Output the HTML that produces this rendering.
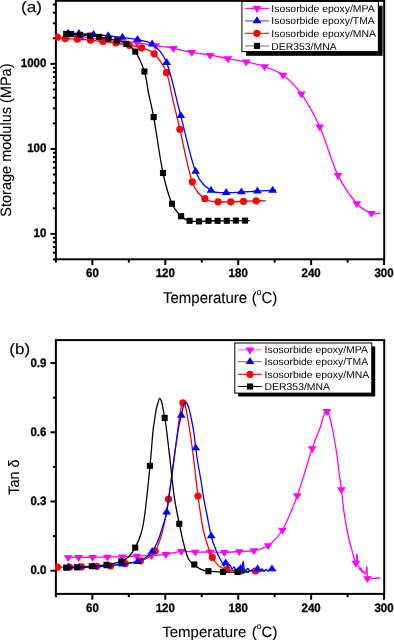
<!DOCTYPE html>
<html><head><meta charset="utf-8"><title>DMA plots</title>
<style>
html,body{margin:0;padding:0;background:#fff;}
body{width:394px;height:640px;overflow:hidden;}
svg{display:block;}
text{font-family:"Liberation Sans",Arial,sans-serif;fill:#000;text-rendering:geometricPrecision;}
.b{font-weight:bold;stroke:#000;stroke-width:0.3px;}
.t{stroke:#000;stroke-width:0.1px;}
</style></head><body>
<svg width="394" height="640" viewBox="0 0 394 640">
<rect width="394" height="640" fill="#fff"/>
<defs><clipPath id="ca"><rect x="55" y="1.5" width="328.2" height="256.6"/></clipPath><clipPath id="cb"><rect x="55" y="341.2" width="328.2" height="251.6"/></clipPath></defs>
<rect x="55.90" y="0.80" width="328.30" height="258.50" fill="none" stroke="#000" stroke-width="2.0"/>
<rect x="55.90" y="340.10" width="328.30" height="253.80" fill="none" stroke="#000" stroke-width="2.0"/>
<g stroke="#000" stroke-width="2"><line x1="55.92" y1="259.30" x2="55.92" y2="262.60"/><line x1="92.38" y1="259.30" x2="92.38" y2="265.10"/><line x1="128.84" y1="259.30" x2="128.84" y2="262.60"/><line x1="165.30" y1="259.30" x2="165.30" y2="265.10"/><line x1="201.76" y1="259.30" x2="201.76" y2="262.60"/><line x1="238.21" y1="259.30" x2="238.21" y2="265.10"/><line x1="274.67" y1="259.30" x2="274.67" y2="262.60"/><line x1="311.13" y1="259.30" x2="311.13" y2="265.10"/><line x1="347.59" y1="259.30" x2="347.59" y2="262.60"/><line x1="384.05" y1="259.30" x2="384.05" y2="265.10"/><line x1="55.92" y1="593.90" x2="55.92" y2="597.20"/><line x1="92.38" y1="593.90" x2="92.38" y2="599.70"/><line x1="128.84" y1="593.90" x2="128.84" y2="597.20"/><line x1="165.30" y1="593.90" x2="165.30" y2="599.70"/><line x1="201.76" y1="593.90" x2="201.76" y2="597.20"/><line x1="238.21" y1="593.90" x2="238.21" y2="599.70"/><line x1="274.67" y1="593.90" x2="274.67" y2="597.20"/><line x1="311.13" y1="593.90" x2="311.13" y2="599.70"/><line x1="347.59" y1="593.90" x2="347.59" y2="597.20"/><line x1="384.05" y1="593.90" x2="384.05" y2="599.70"/><line x1="55.90" y1="259.49" x2="52.90" y2="259.49"/><line x1="55.90" y1="252.76" x2="52.90" y2="252.76"/><line x1="55.90" y1="247.07" x2="52.90" y2="247.07"/><line x1="55.90" y1="242.14" x2="52.90" y2="242.14"/><line x1="55.90" y1="237.79" x2="52.90" y2="237.79"/><line x1="55.90" y1="233.90" x2="50.50" y2="233.90"/><line x1="55.90" y1="208.31" x2="52.90" y2="208.31"/><line x1="55.90" y1="193.34" x2="52.90" y2="193.34"/><line x1="55.90" y1="182.72" x2="52.90" y2="182.72"/><line x1="55.90" y1="174.49" x2="52.90" y2="174.49"/><line x1="55.90" y1="167.76" x2="52.90" y2="167.76"/><line x1="55.90" y1="162.07" x2="52.90" y2="162.07"/><line x1="55.90" y1="157.14" x2="52.90" y2="157.14"/><line x1="55.90" y1="152.79" x2="52.90" y2="152.79"/><line x1="55.90" y1="148.90" x2="50.50" y2="148.90"/><line x1="55.90" y1="123.31" x2="52.90" y2="123.31"/><line x1="55.90" y1="108.34" x2="52.90" y2="108.34"/><line x1="55.90" y1="97.72" x2="52.90" y2="97.72"/><line x1="55.90" y1="89.49" x2="52.90" y2="89.49"/><line x1="55.90" y1="82.76" x2="52.90" y2="82.76"/><line x1="55.90" y1="77.07" x2="52.90" y2="77.07"/><line x1="55.90" y1="72.14" x2="52.90" y2="72.14"/><line x1="55.90" y1="67.79" x2="52.90" y2="67.79"/><line x1="55.90" y1="63.90" x2="50.50" y2="63.90"/><line x1="55.90" y1="38.31" x2="52.90" y2="38.31"/><line x1="55.90" y1="23.34" x2="52.90" y2="23.34"/><line x1="55.90" y1="12.72" x2="52.90" y2="12.72"/><line x1="55.90" y1="4.49" x2="52.90" y2="4.49"/><line x1="55.90" y1="570.70" x2="50.50" y2="570.70"/><line x1="55.90" y1="536.10" x2="52.90" y2="536.10"/><line x1="55.90" y1="501.49" x2="50.50" y2="501.49"/><line x1="55.90" y1="466.89" x2="52.90" y2="466.89"/><line x1="55.90" y1="432.28" x2="50.50" y2="432.28"/><line x1="55.90" y1="397.68" x2="52.90" y2="397.68"/><line x1="55.90" y1="363.07" x2="50.50" y2="363.07"/></g>
<g clip-path="url(#ca)">
<path d="M67.70,35.90 C70.08,36.02 76.57,36.05 82.00,36.60 C87.43,37.15 94.20,38.58 100.30,39.20 C106.40,39.82 112.48,39.70 118.60,40.30 C124.72,40.90 130.85,41.92 137.00,42.80 C143.15,43.68 149.43,44.67 155.50,45.60 C161.57,46.53 167.35,47.27 173.40,48.40 C179.45,49.53 185.67,51.27 191.80,52.40 C197.93,53.53 204.17,54.17 210.20,55.20 C216.23,56.23 222.00,57.48 228.00,58.60 C234.00,59.72 240.10,60.57 246.20,61.90 C252.30,63.23 258.48,64.42 264.60,66.60 C270.72,68.78 276.78,70.45 282.90,75.00 C289.02,79.55 295.17,85.27 301.30,93.90 C307.43,102.53 313.58,113.22 319.70,126.80 C325.82,140.38 331.82,162.62 338.00,175.40 C344.18,188.18 351.23,197.20 356.80,203.50 C362.37,209.80 367.48,211.63 371.40,213.20 C375.32,214.77 378.82,212.95 380.30,212.90" fill="none" stroke="#ff00ff" stroke-width="1.30" stroke-linejoin="round"/>
<g fill="#ff00ff"><path d="M63.30,33.60 L72.10,33.60 L67.70,40.50 Z"/><path d="M77.60,34.30 L86.40,34.30 L82.00,41.20 Z"/><path d="M95.90,36.90 L104.70,36.90 L100.30,43.80 Z"/><path d="M114.20,38.00 L123.00,38.00 L118.60,44.90 Z"/><path d="M132.60,40.50 L141.40,40.50 L137.00,47.40 Z"/><path d="M151.10,43.30 L159.90,43.30 L155.50,50.20 Z"/><path d="M169.00,46.10 L177.80,46.10 L173.40,53.00 Z"/><path d="M187.40,50.10 L196.20,50.10 L191.80,57.00 Z"/><path d="M205.80,52.90 L214.60,52.90 L210.20,59.80 Z"/><path d="M223.60,56.30 L232.40,56.30 L228.00,63.20 Z"/><path d="M241.80,59.60 L250.60,59.60 L246.20,66.50 Z"/><path d="M260.20,64.30 L269.00,64.30 L264.60,71.20 Z"/><path d="M278.50,72.70 L287.30,72.70 L282.90,79.60 Z"/><path d="M296.90,91.60 L305.70,91.60 L301.30,98.50 Z"/><path d="M315.30,124.50 L324.10,124.50 L319.70,131.40 Z"/><path d="M333.60,173.10 L342.40,173.10 L338.00,180.00 Z"/><path d="M352.40,201.20 L361.20,201.20 L356.80,208.10 Z"/><path d="M367.00,210.90 L375.80,210.90 L371.40,217.80 Z"/></g>
<path d="M57.40,37.20 C58.70,37.43 61.88,38.27 65.20,38.60 C68.52,38.93 73.08,38.93 77.30,39.20 C81.52,39.47 86.23,39.82 90.50,40.20 C94.77,40.58 98.67,41.03 102.90,41.50 C107.13,41.97 111.50,42.37 115.90,43.00 C120.30,43.63 125.02,44.50 129.30,45.30 C133.58,46.10 137.45,46.38 141.60,47.80 C145.75,49.22 150.05,49.65 154.20,53.80 C158.35,57.95 163.38,65.00 166.50,72.70 C169.62,80.40 170.67,90.57 172.90,100.00 C175.13,109.43 176.67,115.67 179.90,129.30 C183.13,142.93 188.13,170.23 192.30,181.80 C196.47,193.37 200.60,195.37 204.90,198.70 C209.20,202.03 213.78,201.28 218.10,201.80 C222.42,202.32 226.57,201.88 230.80,201.80 C235.03,201.72 239.28,201.47 243.50,201.30 C247.72,201.13 252.38,200.88 256.10,200.80 C259.82,200.72 264.18,200.80 265.80,200.80" fill="none" stroke="#ff0000" stroke-width="1.30" stroke-linejoin="round"/>
<g fill="#ff0000"><circle cx="57.40" cy="37.20" r="3.60"/><circle cx="65.20" cy="38.60" r="3.60"/><circle cx="77.30" cy="39.20" r="3.60"/><circle cx="90.50" cy="40.20" r="3.60"/><circle cx="102.90" cy="41.50" r="3.60"/><circle cx="115.90" cy="43.00" r="3.60"/><circle cx="129.30" cy="45.30" r="3.60"/><circle cx="141.60" cy="47.80" r="3.60"/><circle cx="154.20" cy="53.80" r="3.60"/><circle cx="166.50" cy="72.70" r="3.60"/><circle cx="179.90" cy="129.30" r="3.60"/><circle cx="192.30" cy="181.80" r="3.60"/><circle cx="204.90" cy="198.70" r="3.60"/><circle cx="218.10" cy="201.80" r="3.60"/><circle cx="230.80" cy="201.80" r="3.60"/><circle cx="243.50" cy="201.30" r="3.60"/><circle cx="256.10" cy="200.80" r="3.60"/></g>
<path d="M68.20,33.40 C69.98,33.42 74.68,33.32 78.90,33.50 C83.12,33.68 88.60,34.10 93.50,34.50 C98.40,34.90 103.48,35.42 108.30,35.90 C113.12,36.38 117.53,36.78 122.40,37.40 C127.27,38.02 132.55,38.47 137.50,39.60 C142.45,40.73 147.25,40.37 152.10,44.20 C156.95,48.03 161.82,50.67 166.60,62.60 C171.38,74.53 175.97,97.67 180.80,115.80 C185.63,133.93 190.57,158.97 195.60,171.40 C200.63,183.83 205.90,186.87 211.00,190.40 C216.10,193.93 221.13,192.33 226.20,192.60 C231.27,192.87 236.20,192.23 241.40,192.00 C246.60,191.77 252.20,191.47 257.40,191.20 C262.60,190.93 269.50,190.57 272.60,190.40 C275.70,190.23 275.43,190.23 276.00,190.20" fill="none" stroke="#0000ff" stroke-width="1.30" stroke-linejoin="round"/>
<g fill="#0000ff"><path d="M63.80,35.70 L72.60,35.70 L68.20,28.80 Z"/><path d="M74.50,35.80 L83.30,35.80 L78.90,28.90 Z"/><path d="M89.10,36.80 L97.90,36.80 L93.50,29.90 Z"/><path d="M103.90,38.20 L112.70,38.20 L108.30,31.30 Z"/><path d="M118.00,39.70 L126.80,39.70 L122.40,32.80 Z"/><path d="M133.10,41.90 L141.90,41.90 L137.50,35.00 Z"/><path d="M147.70,46.50 L156.50,46.50 L152.10,39.60 Z"/><path d="M162.20,64.90 L171.00,64.90 L166.60,58.00 Z"/><path d="M176.40,118.10 L185.20,118.10 L180.80,111.20 Z"/><path d="M191.20,173.70 L200.00,173.70 L195.60,166.80 Z"/><path d="M206.60,192.70 L215.40,192.70 L211.00,185.80 Z"/><path d="M221.80,194.90 L230.60,194.90 L226.20,188.00 Z"/><path d="M237.00,194.30 L245.80,194.30 L241.40,187.40 Z"/><path d="M253.00,193.50 L261.80,193.50 L257.40,186.60 Z"/><path d="M268.20,192.70 L277.00,192.70 L272.60,185.80 Z"/></g>
<path d="M66.20,33.90 C67.03,33.92 68.88,33.83 71.20,34.00 C73.52,34.17 76.98,34.62 80.10,34.90 C83.22,35.18 86.73,35.37 89.90,35.70 C93.07,36.03 96.03,36.38 99.10,36.90 C102.17,37.42 105.30,38.22 108.30,38.80 C111.30,39.38 114.12,39.57 117.10,40.40 C120.08,41.23 123.17,41.93 126.20,43.80 C129.23,45.67 132.27,46.98 135.30,51.60 C138.33,56.22 142.18,64.52 144.40,71.50 C146.62,78.48 147.05,85.90 148.60,93.50 C150.15,101.10 151.30,103.85 153.70,117.10 C156.10,130.35 159.95,158.56 163.00,173.00 C166.05,187.44 168.98,196.55 172.00,203.75 C175.02,210.95 178.17,213.36 181.10,216.20 C184.03,219.04 186.62,219.93 189.60,220.80 C192.58,221.67 195.85,221.40 199.00,221.40 C202.15,221.40 205.40,220.90 208.50,220.80 C211.60,220.70 214.55,220.80 217.60,220.80 C220.65,220.80 223.75,220.83 226.80,220.80 C229.85,220.77 232.87,220.63 235.90,220.60 C238.93,220.57 242.70,220.60 245.00,220.60 C247.30,220.60 248.92,220.60 249.70,220.60" fill="none" stroke="#000000" stroke-width="1.30" stroke-linejoin="round"/>
<g fill="#000000"><rect x="63.15" y="30.85" width="6.10" height="6.10"/><rect x="68.15" y="30.95" width="6.10" height="6.10"/><rect x="77.05" y="31.85" width="6.10" height="6.10"/><rect x="86.85" y="32.65" width="6.10" height="6.10"/><rect x="96.05" y="33.85" width="6.10" height="6.10"/><rect x="105.25" y="35.75" width="6.10" height="6.10"/><rect x="114.05" y="37.35" width="6.10" height="6.10"/><rect x="123.15" y="40.75" width="6.10" height="6.10"/><rect x="132.25" y="48.55" width="6.10" height="6.10"/><rect x="141.35" y="68.45" width="6.10" height="6.10"/><rect x="150.65" y="114.05" width="6.10" height="6.10"/><rect x="159.95" y="169.95" width="6.10" height="6.10"/><rect x="168.95" y="200.70" width="6.10" height="6.10"/><rect x="178.05" y="213.15" width="6.10" height="6.10"/><rect x="186.55" y="217.75" width="6.10" height="6.10"/><rect x="195.95" y="218.35" width="6.10" height="6.10"/><rect x="205.45" y="217.75" width="6.10" height="6.10"/><rect x="214.55" y="217.75" width="6.10" height="6.10"/><rect x="223.75" y="217.75" width="6.10" height="6.10"/><rect x="232.85" y="217.55" width="6.10" height="6.10"/><rect x="241.95" y="217.55" width="6.10" height="6.10"/></g>
</g>
<g clip-path="url(#cb)">
<path d="M68.10,557.50 C69.85,557.48 74.52,557.45 78.60,557.40 C82.68,557.35 87.80,557.27 92.60,557.20 C97.40,557.13 102.45,557.08 107.40,557.00 C112.35,556.92 117.42,556.87 122.30,556.70 C127.18,556.53 131.83,556.20 136.70,556.00 C141.57,555.80 146.65,555.78 151.50,555.50 C156.35,555.22 160.83,555.00 165.80,554.30 C170.77,553.60 176.38,551.68 181.30,551.30 C186.22,550.92 190.48,551.88 195.30,552.00 C200.12,552.12 205.35,551.95 210.20,552.00 C215.05,552.05 219.55,552.38 224.40,552.30 C229.25,552.22 234.38,551.80 239.30,551.50 C244.22,551.20 249.08,551.50 253.90,550.50 C258.72,549.50 263.45,548.92 268.20,545.50 C272.95,542.08 277.55,538.33 282.40,530.00 C287.25,521.67 292.33,509.08 297.30,495.50 C302.27,481.92 308.42,459.75 312.20,448.50 C315.98,437.25 317.95,433.83 320.00,428.00 C322.05,422.17 323.33,416.33 324.50,413.50 C325.67,410.67 326.08,410.25 327.00,411.00 C327.92,411.75 329.00,414.50 330.00,418.00 C331.00,421.50 331.92,426.33 333.00,432.00 C334.08,437.67 335.50,445.33 336.50,452.00 C337.50,458.67 338.18,465.73 339.00,472.00 C339.82,478.27 340.57,482.93 341.40,489.60 C342.23,496.27 343.07,505.27 344.00,512.00 C344.93,518.73 345.83,524.17 347.00,530.00 C348.17,535.83 349.53,541.50 351.00,547.00 C352.47,552.50 354.87,561.50 355.80,563.00 C356.73,564.50 356.37,557.33 356.60,556.00 C356.83,554.67 357.03,553.50 357.20,555.00 C357.37,556.50 357.30,563.00 357.60,565.00 C357.90,567.00 358.60,566.17 359.00,567.00 C359.40,567.83 359.67,569.83 360.00,570.00 C360.33,570.17 360.67,567.67 361.00,568.00 C361.33,568.33 361.58,571.50 362.00,572.00 C362.42,572.50 363.08,570.67 363.50,571.00 C363.92,571.33 364.08,573.83 364.50,574.00 C364.92,574.17 365.62,573.17 366.00,572.00 C366.38,570.83 366.57,566.33 366.80,567.00 C367.03,567.67 367.12,574.08 367.40,576.00 C367.68,577.92 368.07,578.33 368.50,578.50 C368.93,578.67 369.42,577.00 370.00,577.00 C370.58,577.00 371.00,578.33 372.00,578.50 C373.00,578.67 374.67,578.08 376.00,578.00 C377.33,577.92 379.33,578.00 380.00,578.00" fill="none" stroke="#ff00ff" stroke-width="1.30" stroke-linejoin="round"/>
<g fill="#ff00ff"><path d="M63.70,555.20 L72.50,555.20 L68.10,562.10 Z"/><path d="M74.20,555.10 L83.00,555.10 L78.60,562.00 Z"/><path d="M88.20,554.90 L97.00,554.90 L92.60,561.80 Z"/><path d="M103.00,554.70 L111.80,554.70 L107.40,561.60 Z"/><path d="M117.90,554.40 L126.70,554.40 L122.30,561.30 Z"/><path d="M132.30,553.70 L141.10,553.70 L136.70,560.60 Z"/><path d="M147.10,553.20 L155.90,553.20 L151.50,560.10 Z"/><path d="M161.40,552.00 L170.20,552.00 L165.80,558.90 Z"/><path d="M176.90,549.00 L185.70,549.00 L181.30,555.90 Z"/><path d="M190.90,549.70 L199.70,549.70 L195.30,556.60 Z"/><path d="M205.80,549.70 L214.60,549.70 L210.20,556.60 Z"/><path d="M220.00,550.00 L228.80,550.00 L224.40,556.90 Z"/><path d="M234.90,549.20 L243.70,549.20 L239.30,556.10 Z"/><path d="M249.50,548.20 L258.30,548.20 L253.90,555.10 Z"/><path d="M263.80,543.20 L272.60,543.20 L268.20,550.10 Z"/><path d="M278.00,527.70 L286.80,527.70 L282.40,534.60 Z"/><path d="M292.90,493.20 L301.70,493.20 L297.30,500.10 Z"/><path d="M307.80,446.20 L316.60,446.20 L312.20,453.10 Z"/><path d="M322.50,409.10 L331.30,409.10 L326.90,416.00 Z"/><path d="M337.00,487.30 L345.80,487.30 L341.40,494.20 Z"/><path d="M351.40,560.70 L360.20,560.70 L355.80,567.60 Z"/><path d="M363.10,576.20 L371.90,576.20 L367.50,583.10 Z"/></g>
<path d="M57.40,567.20 C59.42,567.18 65.47,567.17 69.50,567.10 C73.53,567.03 77.05,566.93 81.60,566.80 C86.15,566.67 91.98,566.43 96.80,566.30 C101.62,566.17 105.75,566.45 110.50,566.00 C115.25,565.55 120.30,564.47 125.30,563.60 C130.30,562.73 136.63,561.82 140.50,560.80 C144.37,559.78 146.07,559.13 148.50,557.50 C150.93,555.87 153.43,553.25 155.10,551.00 C156.77,548.75 157.35,547.00 158.50,544.00 C159.65,541.00 160.83,537.33 162.00,533.00 C163.17,528.67 164.42,523.63 165.50,518.00 C166.58,512.37 167.42,506.37 168.50,499.20 C169.58,492.03 170.75,484.20 172.00,475.00 C173.25,465.80 174.70,454.00 176.00,444.00 C177.30,434.00 178.65,422.03 179.80,415.00 C180.95,407.97 181.90,402.97 182.90,401.80 C183.90,400.63 184.78,403.97 185.80,408.00 C186.82,412.03 187.90,419.17 189.00,426.00 C190.10,432.83 191.32,440.83 192.40,449.00 C193.48,457.17 194.57,467.17 195.50,475.00 C196.43,482.83 197.00,488.50 198.00,496.00 C199.00,503.50 200.33,513.17 201.50,520.00 C202.67,526.83 203.20,530.78 205.00,537.00 C206.80,543.22 209.97,552.47 212.30,557.30 C214.63,562.13 216.58,563.97 219.00,566.00 C221.42,568.03 223.10,568.67 226.80,569.50 C230.50,570.33 236.42,570.75 241.20,571.00 C245.98,571.25 251.53,571.00 255.50,571.00 C259.47,571.00 263.42,571.00 265.00,571.00" fill="none" stroke="#ff0000" stroke-width="1.30" stroke-linejoin="round"/>
<g fill="#ff0000"><circle cx="57.40" cy="567.20" r="3.60"/><circle cx="69.50" cy="567.10" r="3.60"/><circle cx="81.60" cy="566.80" r="3.60"/><circle cx="96.80" cy="566.30" r="3.60"/><circle cx="110.50" cy="566.00" r="3.60"/><circle cx="125.30" cy="563.60" r="3.60"/><circle cx="140.50" cy="560.80" r="3.60"/><circle cx="155.10" cy="551.00" r="3.60"/><circle cx="168.50" cy="499.20" r="3.60"/><circle cx="182.90" cy="402.80" r="3.60"/><circle cx="198.00" cy="496.00" r="3.60"/><circle cx="212.30" cy="557.30" r="3.60"/><circle cx="226.80" cy="569.50" r="3.60"/><circle cx="241.20" cy="571.00" r="3.60"/><circle cx="255.50" cy="571.00" r="3.60"/></g>
<path d="M68.30,567.20 C70.10,567.22 74.92,567.37 79.10,567.30 C83.28,567.23 88.58,567.02 93.40,566.80 C98.22,566.58 103.15,566.43 108.00,566.00 C112.85,565.57 117.57,564.93 122.50,564.20 C127.43,563.47 133.68,562.72 137.60,561.60 C141.52,560.48 143.57,559.18 146.00,557.50 C148.43,555.82 150.53,553.58 152.20,551.50 C153.87,549.42 154.78,547.50 156.00,545.00 C157.22,542.50 158.30,539.83 159.50,536.50 C160.70,533.17 162.00,529.05 163.20,525.00 C164.40,520.95 165.48,518.87 166.70,512.20 C167.92,505.53 169.20,494.53 170.50,485.00 C171.80,475.47 173.17,464.50 174.50,455.00 C175.83,445.50 177.37,434.58 178.50,428.00 C179.63,421.42 180.43,419.33 181.30,415.50 C182.17,411.67 182.90,407.15 183.70,405.00 C184.50,402.85 185.27,402.18 186.10,402.60 C186.93,403.02 187.85,404.93 188.70,407.50 C189.55,410.07 190.35,413.92 191.20,418.00 C192.05,422.08 193.05,427.00 193.80,432.00 C194.55,437.00 194.97,442.50 195.70,448.00 C196.43,453.50 197.33,459.67 198.20,465.00 C199.07,470.33 200.02,474.67 200.90,480.00 C201.78,485.33 202.48,491.17 203.50,497.00 C204.52,502.83 205.72,508.50 207.00,515.00 C208.28,521.50 209.78,530.33 211.20,536.00 C212.62,541.67 214.12,545.33 215.50,549.00 C216.88,552.67 218.33,555.67 219.50,558.00 C220.67,560.33 221.75,561.67 222.50,563.00 C223.25,564.33 223.42,566.33 224.00,566.00 C224.58,565.67 225.33,560.83 226.00,561.00 C226.67,561.17 227.33,566.33 228.00,567.00 C228.67,567.67 229.33,564.67 230.00,565.00 C230.67,565.33 231.33,568.67 232.00,569.00 C232.67,569.33 233.33,566.83 234.00,567.00 C234.67,567.17 235.33,569.83 236.00,570.00 C236.67,570.17 237.33,568.00 238.00,568.00 C238.67,568.00 239.33,569.83 240.00,570.00 C240.67,570.17 241.47,570.42 242.00,569.00 C242.53,567.58 242.83,561.50 243.20,561.50 C243.57,561.50 243.73,567.58 244.20,569.00 C244.67,570.42 245.37,570.08 246.00,570.00 C246.63,569.92 247.33,568.33 248.00,568.50 C248.67,568.67 249.33,570.75 250.00,571.00 C250.67,571.25 251.33,570.00 252.00,570.00 C252.67,570.00 253.33,571.17 254.00,571.00 C254.67,570.83 255.33,569.50 256.00,569.00 C256.67,568.50 257.33,567.75 258.00,568.00 C258.67,568.25 259.33,570.33 260.00,570.50 C260.67,570.67 261.33,568.92 262.00,569.00 C262.67,569.08 263.33,570.92 264.00,571.00 C264.67,571.08 265.33,569.50 266.00,569.50 C266.67,569.50 267.33,571.08 268.00,571.00 C268.67,570.92 269.33,569.42 270.00,569.00 C270.67,568.58 271.33,568.33 272.00,568.50 C272.67,568.67 273.33,569.67 274.00,570.00 C274.67,570.33 275.67,570.42 276.00,570.50" fill="none" stroke="#0000ff" stroke-width="1.30" stroke-linejoin="round"/>
<g fill="#0000ff"><path d="M63.90,569.50 L72.70,569.50 L68.30,562.60 Z"/><path d="M74.70,569.60 L83.50,569.60 L79.10,562.70 Z"/><path d="M89.00,569.10 L97.80,569.10 L93.40,562.20 Z"/><path d="M103.60,568.30 L112.40,568.30 L108.00,561.40 Z"/><path d="M118.10,566.50 L126.90,566.50 L122.50,559.60 Z"/><path d="M133.20,563.90 L142.00,563.90 L137.60,557.00 Z"/><path d="M147.80,553.80 L156.60,553.80 L152.20,546.90 Z"/><path d="M162.30,514.50 L171.10,514.50 L166.70,507.60 Z"/><path d="M176.90,417.80 L185.70,417.80 L181.30,410.90 Z"/><path d="M191.30,450.30 L200.10,450.30 L195.70,443.40 Z"/><path d="M206.80,538.30 L215.60,538.30 L211.20,531.40 Z"/><path d="M221.30,565.30 L230.10,565.30 L225.70,558.40 Z"/><path d="M236.10,570.80 L244.90,570.80 L240.50,563.90 Z"/><path d="M253.20,571.30 L262.00,571.30 L257.60,564.40 Z"/><path d="M267.60,571.30 L276.40,571.30 L272.00,564.40 Z"/></g>
<path d="M66.20,567.70 C67.98,567.63 72.63,567.55 76.90,567.30 C81.17,567.05 86.87,566.62 91.80,566.20 C96.73,565.78 101.60,565.60 106.50,564.80 C111.40,564.00 117.45,562.78 121.20,561.40 C124.95,560.02 126.67,558.80 129.00,556.50 C131.33,554.20 133.20,551.38 135.20,547.60 C137.20,543.82 139.42,539.23 141.00,533.80 C142.58,528.37 143.20,526.30 144.70,515.00 C146.20,503.70 148.63,479.83 150.00,466.00 C151.37,452.17 152.13,439.67 152.90,432.00 C153.67,424.33 154.03,423.83 154.60,420.00 C155.17,416.17 155.77,411.77 156.30,409.00 C156.83,406.23 157.23,405.17 157.80,403.40 C158.37,401.63 159.03,398.55 159.70,398.40 C160.37,398.25 161.23,400.73 161.80,402.50 C162.37,404.27 162.62,406.43 163.10,409.00 C163.58,411.57 164.17,414.73 164.70,417.90 C165.23,421.07 165.50,421.82 166.30,428.00 C167.10,434.18 168.18,443.62 169.50,455.00 C170.82,466.38 172.57,484.83 174.20,496.30 C175.83,507.77 177.67,515.68 179.30,523.80 C180.93,531.92 182.47,539.13 184.00,545.00 C185.53,550.87 186.78,555.67 188.50,559.00 C190.22,562.33 192.22,563.28 194.30,565.00 C196.38,566.72 198.65,568.27 201.00,569.30 C203.35,570.33 204.73,570.75 208.40,571.20 C212.07,571.65 218.15,571.87 223.00,572.00 C227.85,572.13 233.13,572.00 237.50,572.00 C241.87,572.00 247.25,572.00 249.20,572.00" fill="none" stroke="#000000" stroke-width="1.30" stroke-linejoin="round"/>
<g fill="#000000"><rect x="63.15" y="564.65" width="6.10" height="6.10"/><rect x="73.85" y="564.25" width="6.10" height="6.10"/><rect x="88.75" y="563.15" width="6.10" height="6.10"/><rect x="103.45" y="561.75" width="6.10" height="6.10"/><rect x="118.15" y="558.35" width="6.10" height="6.10"/><rect x="132.15" y="544.55" width="6.10" height="6.10"/><rect x="146.85" y="462.85" width="6.10" height="6.10"/><rect x="161.65" y="414.85" width="6.10" height="6.10"/><rect x="176.25" y="520.75" width="6.10" height="6.10"/><rect x="191.25" y="561.45" width="6.10" height="6.10"/><rect x="205.35" y="568.15" width="6.10" height="6.10"/><rect x="219.95" y="568.95" width="6.10" height="6.10"/><rect x="234.45" y="568.95" width="6.10" height="6.10"/></g>
</g>
<rect x="246.10" y="5.70" width="136.50" height="50.10" fill="#000"/>
<rect x="241.90" y="1.50" width="136.50" height="50.10" fill="#fff" stroke="#000" stroke-width="1"/>
<line x1="245.00" y1="8.40" x2="269.00" y2="8.40" stroke="#ff00ff" stroke-width="1.10"/><g fill="#ff00ff"><path d="M252.60,6.10 L261.40,6.10 L257.00,13.00 Z"/></g><text transform="translate(271.30,11.70) scale(1.04,1)" font-size="10.00">Isosorbide epoxy/MPA</text>
<line x1="245.00" y1="20.90" x2="269.00" y2="20.90" stroke="#6a6aff" stroke-width="1.40"/><g fill="#0000ff"><path d="M252.60,23.20 L261.40,23.20 L257.00,16.30 Z"/></g><text transform="translate(271.30,24.40) scale(1.04,1)" font-size="10.00">Isosorbide epoxy/TMA</text>
<line x1="245.00" y1="33.30" x2="269.00" y2="33.30" stroke="#ff0000" stroke-width="1.10"/><g fill="#ff0000"><circle cx="257.00" cy="33.30" r="3.60"/></g><text transform="translate(271.30,36.90) scale(1.04,1)" font-size="10.00">Isosorbide epoxy/MNA</text>
<line x1="245.00" y1="45.90" x2="269.00" y2="45.90" stroke="#888" stroke-width="1.20"/><g fill="#000"><rect x="253.95" y="42.85" width="6.10" height="6.10"/></g><text transform="translate(271.30,49.60) scale(1.04,1)" font-size="10.00">DER353/MNA</text>
<rect x="238.20" y="346.40" width="137.00" height="50.10" fill="#000"/>
<rect x="234.80" y="343.00" width="137.00" height="50.10" fill="#fff" stroke="#000" stroke-width="1"/>
<line x1="238.00" y1="349.80" x2="261.80" y2="349.80" stroke="#ff80ff" stroke-width="1.30"/><g fill="#ff00ff"><path d="M245.60,347.50 L254.40,347.50 L250.00,354.40 Z"/></g><text transform="translate(264.60,353.40) scale(1.04,1)" font-size="10.00">Isosorbide epoxy/MPA</text>
<line x1="238.00" y1="361.60" x2="261.80" y2="361.60" stroke="#8080ff" stroke-width="1.30"/><g fill="#0000ff"><path d="M245.60,363.90 L254.40,363.90 L250.00,357.00 Z"/></g><text transform="translate(264.60,365.40) scale(1.04,1)" font-size="10.00">Isosorbide epoxy/TMA</text>
<line x1="238.00" y1="374.30" x2="261.80" y2="374.30" stroke="#ff0000" stroke-width="1.10"/><g fill="#ff0000"><circle cx="250.00" cy="374.30" r="3.60"/></g><text transform="translate(264.60,378.10) scale(1.04,1)" font-size="10.00">Isosorbide epoxy/MNA</text>
<line x1="238.00" y1="386.50" x2="261.80" y2="386.50" stroke="#000" stroke-width="1.00"/><g fill="#000"><rect x="246.95" y="383.45" width="6.10" height="6.10"/></g><text transform="translate(264.60,390.00) scale(1.04,1)" font-size="10.00">DER353/MNA</text>
<text class="b" transform="translate(92.38,277.1) scale(1,1.06)" font-size="11.5" text-anchor="middle">60</text><text class="b" transform="translate(92.38,611.7) scale(1,1.06)" font-size="11.5" text-anchor="middle">60</text><text class="b" transform="translate(165.30,277.1) scale(1,1.06)" font-size="11.5" text-anchor="middle">120</text><text class="b" transform="translate(165.30,611.7) scale(1,1.06)" font-size="11.5" text-anchor="middle">120</text><text class="b" transform="translate(238.21,277.1) scale(1,1.06)" font-size="11.5" text-anchor="middle">180</text><text class="b" transform="translate(238.21,611.7) scale(1,1.06)" font-size="11.5" text-anchor="middle">180</text><text class="b" transform="translate(311.13,277.1) scale(1,1.06)" font-size="11.5" text-anchor="middle">240</text><text class="b" transform="translate(311.13,611.7) scale(1,1.06)" font-size="11.5" text-anchor="middle">240</text><text class="b" transform="translate(384.05,277.1) scale(1,1.06)" font-size="11.5" text-anchor="middle">300</text><text class="b" transform="translate(384.05,611.7) scale(1,1.06)" font-size="11.5" text-anchor="middle">300</text><text class="b" transform="translate(46.4,67.40) scale(1,1.06)" font-size="11.5" text-anchor="end">1000</text><text class="b" transform="translate(46.4,151.70) scale(1,1.06)" font-size="11.5" text-anchor="end">100</text><text class="b" transform="translate(46.4,236.90) scale(1,1.06)" font-size="11.5" text-anchor="end">10</text><text class="b" transform="translate(46.4,574.30) scale(1,1.06)" font-size="11.5" text-anchor="end">0.0</text><text class="b" transform="translate(46.4,505.09) scale(1,1.06)" font-size="11.5" text-anchor="end">0.3</text><text class="b" transform="translate(46.4,435.88) scale(1,1.06)" font-size="11.5" text-anchor="end">0.6</text><text class="b" transform="translate(46.4,366.67) scale(1,1.06)" font-size="11.5" text-anchor="end">0.9</text>
<text class="t" transform="translate(21.0,11.6) scale(1.14,1)" font-size="15">(a)</text>
<text class="t" transform="translate(9.3,353.5) scale(1.14,1)" font-size="15">(b)</text>
<text class="t" transform="translate(163,302.5) scale(1,1.04)" font-size="15">Temperature <tspan dx="0.4">(</tspan><tspan font-size="8.5" dy="-7.5">o</tspan><tspan dy="7.5">C)</tspan></text>
<text class="t" transform="translate(162.2,636.8) scale(1,1.0)" font-size="15">Temperature <tspan dx="1.3">(</tspan><tspan font-size="8.5" dy="-7.5">o</tspan><tspan dy="7.5">C)</tspan></text>
<text class="t" transform="translate(10.6,140.1) rotate(-90) scale(1,1.04)" font-size="14.5" text-anchor="middle">Storage modulus (MPa)</text>
<text class="t" transform="translate(19.4,477.1) rotate(-90) scale(1,1.04)" font-size="14.5" text-anchor="middle">Tan δ</text>
</svg>
</body></html>
